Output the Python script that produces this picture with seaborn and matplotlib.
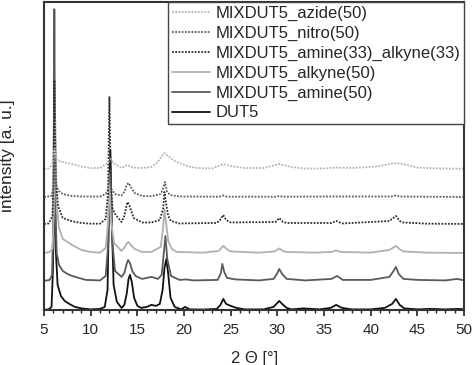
import numpy as np
import pandas as pd
import matplotlib
matplotlib.use("Agg")
import matplotlib.pyplot as plt
import seaborn as sns
from matplotlib.ticker import MultipleLocator

sns.set_theme(style="white")
plt.rcParams['font.family'] = ['Liberation Sans', 'DejaVu Sans']

# ---- data (2Theta in degrees, intensity in a.u. above each trace's own baseline) ----
series_names = ["DUT5", "MIXDUT5_amine(50)", "MIXDUT5_alkyne(50)",
                "MIXDUT5_amine(33)_alkyne(33)", "MIXDUT5_nitro(50)", "MIXDUT5_azide(50)"]

dut5_x = [5, 5.5, 5.8, 5.95, 6.1, 6.25, 6.45, 6.8, 7.2, 7.7, 8.3, 9, 10, 11, 11.5, 11.8, 11.95, 12.1, 12.25, 12.45,
          12.8, 13.3, 13.6, 13.85, 14.05, 14.2, 14.4, 14.65, 15.0, 15.4, 16, 16.5, 17, 17.4, 17.7, 17.9, 18.1, 18.3,
          18.55, 19.0, 19.7, 20.1, 20.6, 22, 23.5, 23.9, 24.2, 24.5, 25, 25.6, 26.5, 28.5, 29.6, 30.0, 30.2, 30.5,
          31.0, 31.5, 32.8, 34.5, 35.7, 36.3, 36.9, 38, 40, 41.5, 42.3, 42.7, 43.1, 43.6, 45, 46.5, 48, 49.5, 50]
dut5_y = [0, 0.5, 3, 40, 150, 60, 25, 14, 9, 6, 3, 1.5, 0.5, 1, 3, 20, 100, 160, 90, 25,
          8, 2, 5, 16, 31, 35, 28, 12, 4, 2, 3, 5, 4, 6, 20, 42, 51, 36,
          12, 3, 0.5, 3, 0.5, 0.3, 1, 5, 11, 6, 4, 2, 0.5, 0.5, 3, 7, 9, 6,
          2, 0.5, 1.5, 0.5, 2, 5, 2, 0.5, 0.5, 2, 6, 11, 5, 1.5, 0.5, 1, 0.5, 1, 0.5]

amine_x = [5, 5.6, 5.85, 6.0, 6.1, 6.2, 6.35, 6.6, 7, 7.5, 8, 8.7, 9.5, 11, 11.6, 11.9, 12.1, 12.3, 12.6, 13.3,
           13.6, 13.85, 14.0, 14.2, 14.45, 14.8, 15.5, 16.5, 17.2, 17.6, 17.85, 18.0, 18.2, 18.6, 19.5, 20.2, 21,
           23.6, 23.95, 24.1, 24.3, 24.6, 25.5, 28, 29.6, 30.0, 30.2, 30.5, 31, 33, 35.8, 36.4, 37, 40, 42, 42.45,
           42.7, 43.0, 43.5, 45, 48, 49.3, 50]
amine_y = [0, 1, 6, 60, 272, 80, 28, 16, 10, 7, 5, 3, 1, 0.5, 5, 40, 111, 40, 10, 4,
           8, 17, 21, 18, 10, 5, 2, 4, 2, 6, 30, 45, 22, 5, 1, 1.5, 0.5,
           1, 8, 17, 9, 3, 1.5, 0.5, 2, 8, 12, 7, 2, 0.5, 2, 5, 1, 1, 4, 10,
           14, 7, 2, 1, 0.5, 2, 0.5]

alkyne_x = [5, 5.6, 5.9, 6.05, 6.2, 6.35, 6.6, 7, 7.5, 8, 9, 10, 11, 11.6, 11.85, 12.0, 12.15, 12.5, 13.3, 13.65,
            13.9, 14.05, 14.3, 14.7, 15.5, 16.5, 17.5, 17.75, 17.9, 18.05, 18.3, 18.7, 19.2, 22, 23.7, 24.2, 24.7,
            25, 28, 29.7, 30.2, 30.7, 31, 34, 35.8, 36.3, 36.8, 40, 42, 42.7, 43.2, 43.5, 46, 50]
alkyne_y = [0, 1, 4, 40, 133, 50, 25, 14, 11, 8, 3, 1, 0.3, 5, 30, 78, 35, 10, 2, 6,
            10, 11, 8, 4, 1, 1, 6, 25, 44, 32, 12, 4, 1, 0.3, 2, 7, 3,
            1.5, 0.3, 1.5, 4.5, 1.5, 1, 0.3, 1, 2.5, 1, 0.3, 3, 7, 3, 1.5, 0.3, 0]

mix_x = [5, 5.5, 5.9, 6.0, 6.1, 6.25, 6.5, 7, 8, 9, 10, 11, 11.6, 11.85, 12.0, 12.15, 12.35, 12.6, 13.3, 13.6,
         13.8, 13.95, 14.2, 14.6, 15.5, 16.5, 17.4, 17.75, 17.9, 18.05, 18.3, 18.6, 19.5, 23.5, 23.95, 24.2, 24.5,
         25, 29.8, 30.2, 30.6, 31, 35.8, 36.3, 36.8, 37, 42, 42.7, 43.1, 43.5, 46, 50]
mix_y = [0, 0.5, 8, 40, 144, 45, 18, 6, 2.7, 1, 0.3, 0.3, 5, 30, 127, 40, 15, 10, 2, 8,
         17, 22, 17, 6, 1.5, 1.5, 4, 15, 32, 22, 8, 3, 0.5, 1, 5, 9, 4,
         1.5, 2, 6, 2, 1, 1, 3, 1, 0.5, 3, 8, 3, 1.5, 0.3, 0]

nitro_x = [5, 5.8, 6.0, 6.1, 6.25, 6.6, 7, 8, 9, 11, 11.6, 11.85, 12.0, 12.2, 12.6, 13.3, 13.65, 13.85, 14.05, 14.3,
           14.7, 15.5, 16.5, 17.5, 17.8, 17.95, 18.15, 18.5, 19.5, 23.8, 24.2, 24.6, 29.8, 30.2, 30.6, 36.3, 42.2,
           42.7, 43.2, 50]
nitro_y = [0, 1, 10, 40, 12, 6, 3, 1, 0.5, 0.5, 3, 8, 20, 8, 3, 1.5, 6, 12, 14, 10,
           4, 1, 0.8, 3, 10, 15, 6, 2, 0.5, 0.3, 1.5, 0.3, 0.3, 1, 0.3, 0.5, 0.5,
           1.5, 0.5, 0]

azide_x = [5, 5.5, 5.9, 6.1, 6.3, 6.6, 7, 8, 9, 10, 11, 11.8, 12.1, 12.6, 13.3, 13.9, 14.5, 15.5, 16.5, 17.2,
           17.6, 17.9, 18.3, 18.8, 19.5, 20.5, 21.5, 23, 24.2, 25, 26.5, 28.5, 30.2, 31.5, 33, 35, 36.3, 38, 40.5,
           41.5, 42.5, 43.5, 45, 46.5, 48, 50]
azide_y = [0, 0.5, 5, 20, 10, 8, 7, 5, 2.5, 1, 1, 6, 10, 5, 1, 4, 1.5, 1, 2, 7,
           13, 16, 13, 9, 6, 2.5, 1, 0.5, 5, 3, 1, 1, 5, 2, 0.5, 0.5, 1.5, 1, 2.5,
           4, 6, 5, 1.5, 0.8, 0.5, 0.3]

xs = [dut5_x, amine_x, alkyne_x, mix_x, nitro_x, azide_x]
ys = [dut5_y, amine_y, alkyne_y, mix_y, nitro_y, azide_y]

# ---- styling ----
offsets = [0, 29, 57, 86, 113, 141]
colors = ["#111111", "#5a5a5a", "#b0b0b0", "#2e2e2e", "#5e5e5e", "#b4b4b4"]
styles = ["-", "-", "-", (0, (1, 0.8)), (0, (1, 0.8)), (0, (1, 0.8))]

fig = plt.figure(figsize=(4.74, 3.65), dpi=100)
ax = fig.add_axes([0.093, 0.151, 0.886, 0.843])

for name, x, y, off, c, ls in zip(series_names, xs, ys, offsets, colors, styles):
    df = pd.DataFrame({"x": x, "y": np.array(y, dtype=float) + off})
    sns.lineplot(data=df, x="x", y="y", ax=ax, color=c, linewidth=1.3,
                 linestyle=ls, label=name, sort=False, estimator=None)

ax.set_xlim(5, 50)
ax.set_ylim(0, 308)
ax.xaxis.set_major_locator(MultipleLocator(5))
ax.xaxis.set_minor_locator(MultipleLocator(1))
ax.set_yticks([])
ax.tick_params(axis="x", which="major", direction="out", length=4.5, width=1.2,
               color="#222222", labelsize=11, pad=5, bottom=True)
ax.tick_params(axis="x", which="minor", direction="out", length=2.5, width=1.0,
               color="#222222", bottom=True)
for s in ax.spines.values():
    s.set_color("#333333")
    s.set_linewidth(1.5)

ax.set_xlabel("2 Θ [°]", fontsize=12, labelpad=10)
ax.set_ylabel("intensity [a. u.]", fontsize=12.5, labelpad=21)

handles, labels = ax.get_legend_handles_labels()
leg = ax.legend(handles[::-1], labels[::-1], loc="upper right", fontsize=12,
                frameon=True, fancybox=False, edgecolor="#444444", framealpha=1,
                borderpad=0.2, labelspacing=0.29, handlelength=2.3, handletextpad=0.35,
                borderaxespad=0.0)
leg.get_frame().set_linewidth(1.0)

fig.savefig("out.png", dpi=100)
